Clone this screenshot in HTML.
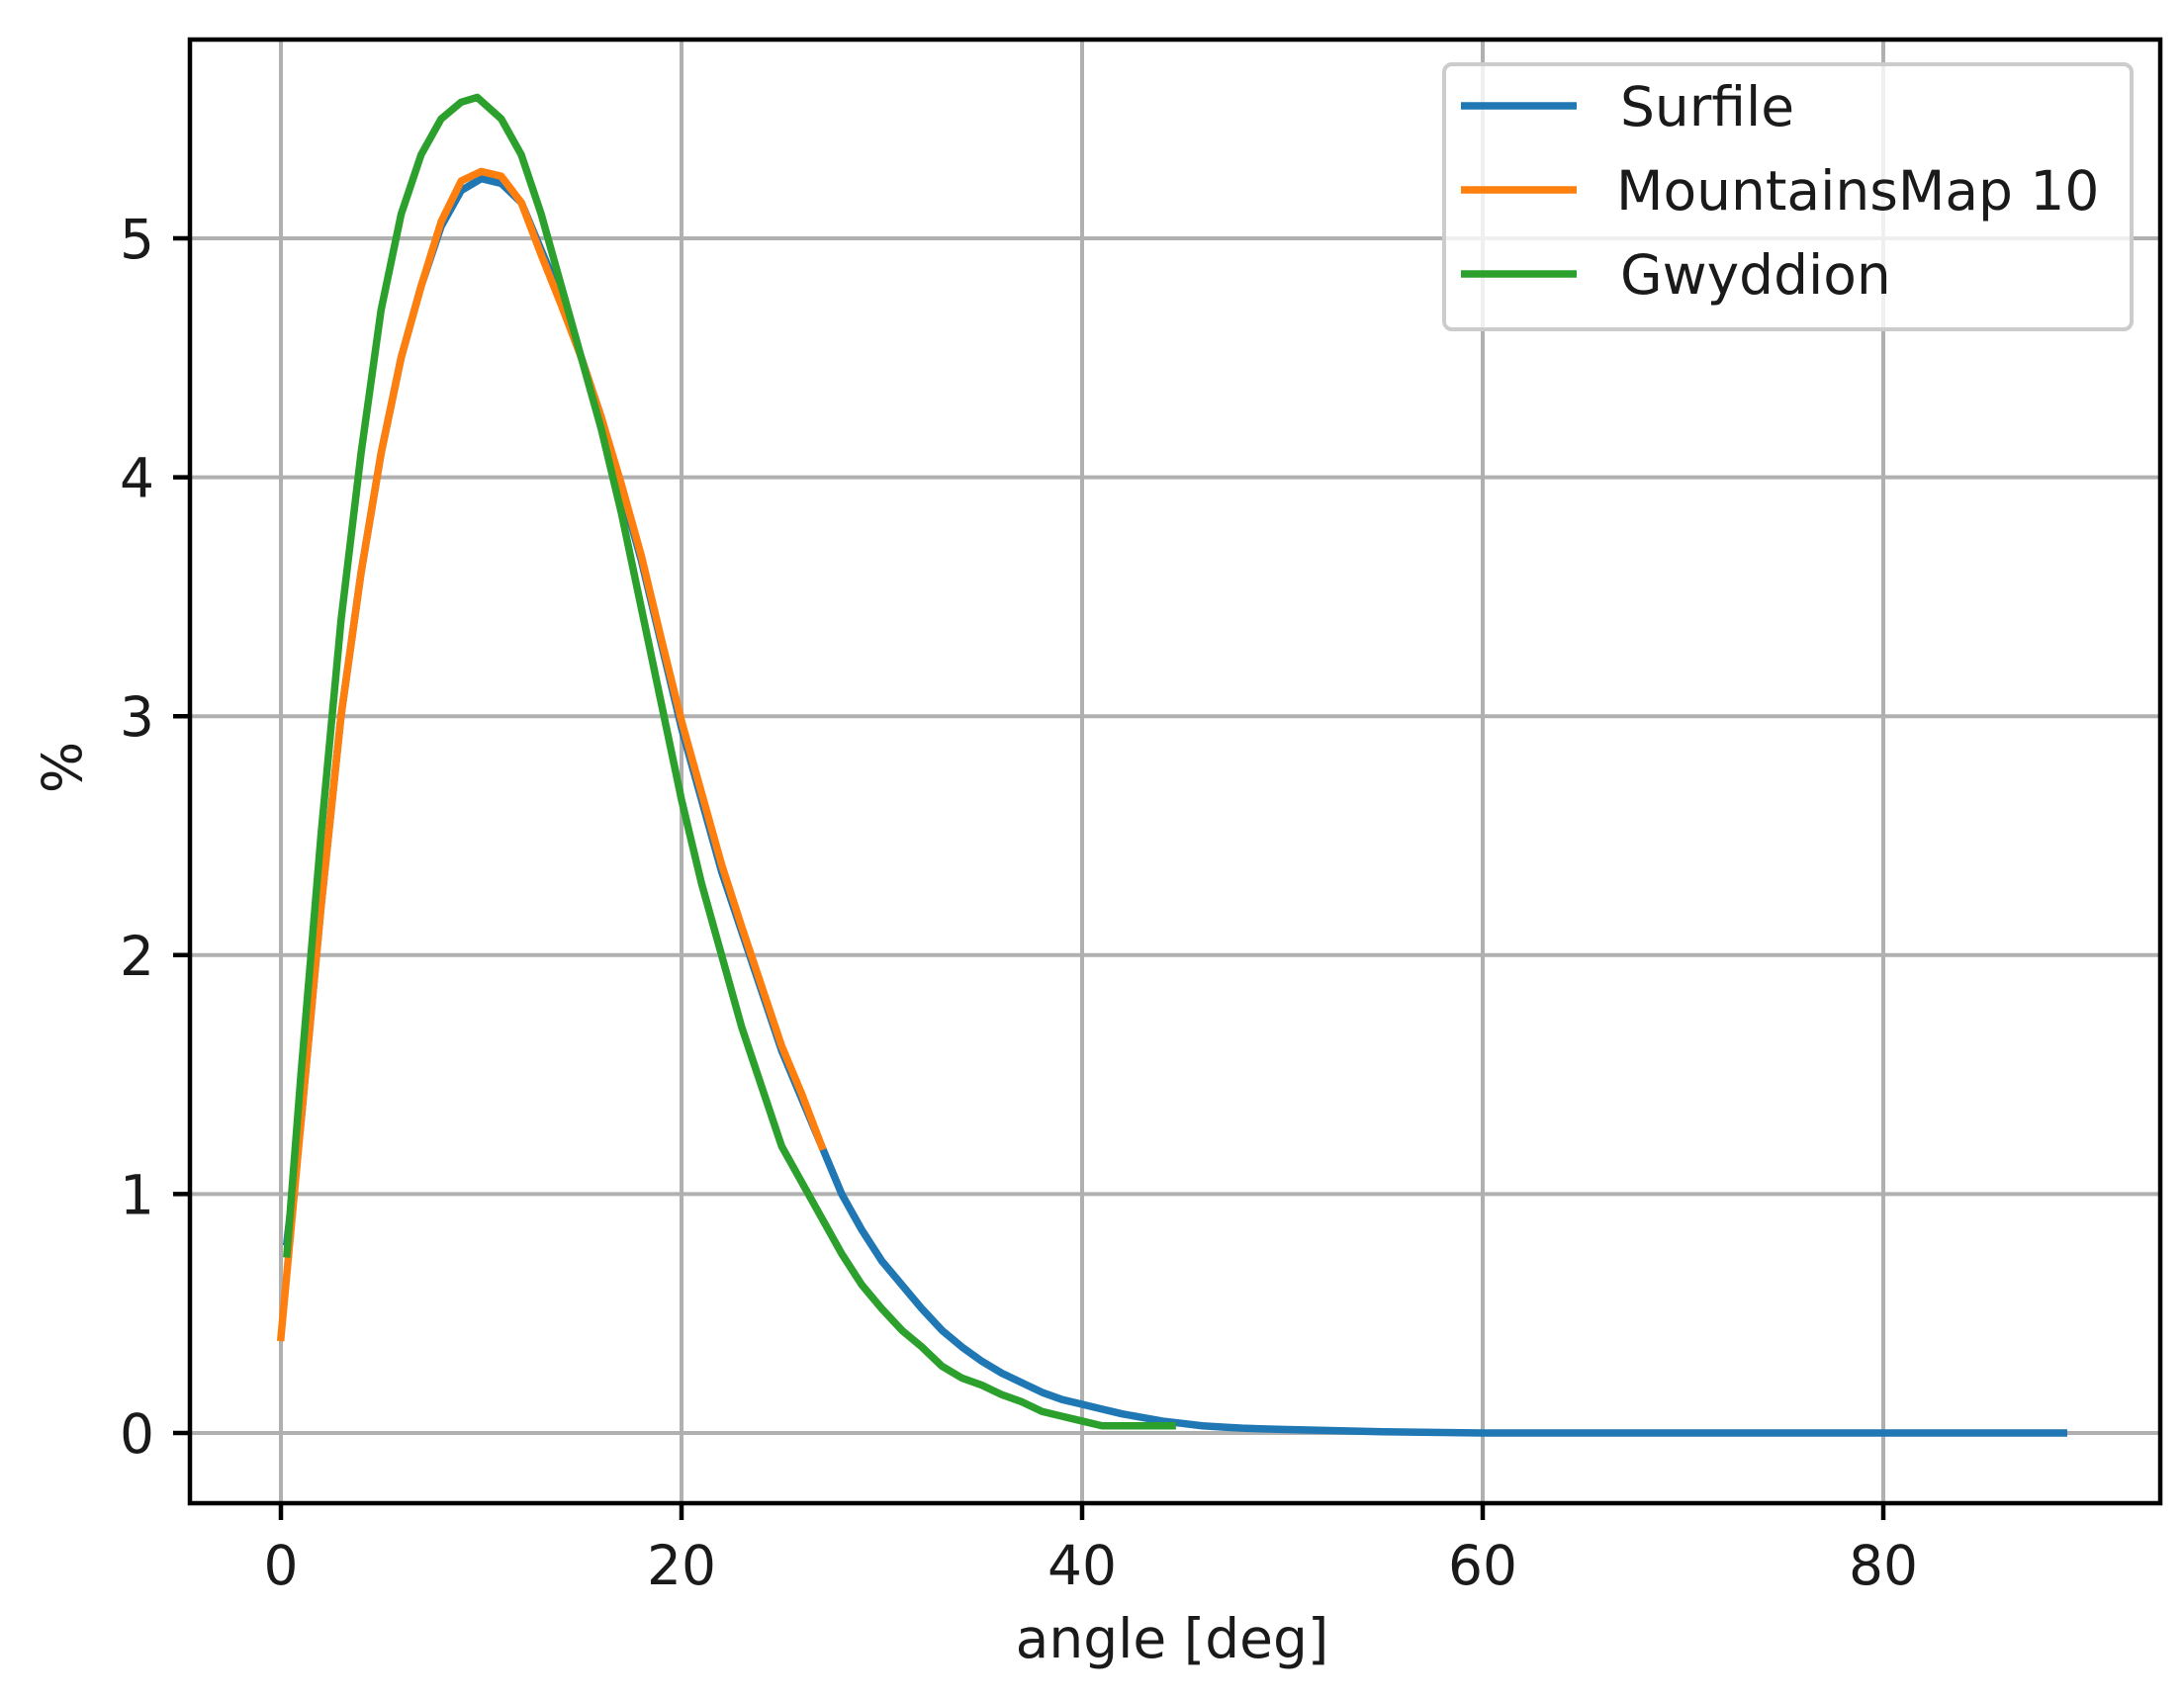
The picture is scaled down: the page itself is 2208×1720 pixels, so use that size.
<!DOCTYPE html>
<html><head><meta charset="utf-8"><style>
html,body{margin:0;padding:0;background:#fff;}
svg text{font-family:"DejaVu Sans","Liberation Sans",sans-serif;font-size:55px;fill:#1a1a1a;}
</style></head><body>
<svg width="2208" height="1715" viewBox="0 0 2208 1715" xmlns="http://www.w3.org/2000/svg">
<rect width="2208" height="1715" fill="#fff"/>
<g stroke="#b0b0b0" stroke-width="4">
<line x1="284" y1="40" x2="284" y2="1520"/>
<line x1="689" y1="40" x2="689" y2="1520"/>
<line x1="1094" y1="40" x2="1094" y2="1520"/>
<line x1="1499" y1="40" x2="1499" y2="1520"/>
<line x1="1904" y1="40" x2="1904" y2="1520"/>
<line x1="192" y1="1449" x2="2184" y2="1449"/>
<line x1="192" y1="1207.4" x2="2184" y2="1207.4"/>
<line x1="192" y1="965.8" x2="2184" y2="965.8"/>
<line x1="192" y1="724.2" x2="2184" y2="724.2"/>
<line x1="192" y1="482.6" x2="2184" y2="482.6"/>
<line x1="192" y1="241" x2="2184" y2="241"/>
</g>
<g transform="matrix(20.25,0,0,-241.6,284,1449)" fill="none" stroke-width="7.5" stroke-linejoin="round" stroke-linecap="square">
<polyline vector-effect="non-scaling-stroke" stroke="#1f77b4" points="0.3,0.8 1,1.3 2,2.2 3,3.0 4,3.6 5,4.1 6,4.5 7,4.8 8,5.05 9,5.2 10,5.25 11,5.23 12,5.15 13,4.95 14,4.75 15,4.5 16,4.25 17,3.95 18,3.65 19,3.3 20,2.95 21,2.65 22,2.35 23,2.1 24,1.85 25,1.6 26,1.4 27,1.2 28,1.0 29,0.85 30,0.72 31,0.62 32,0.52 33,0.43 34,0.36 35,0.3 36,0.25 37,0.21 38,0.17 39,0.14 40,0.12 41,0.1 42,0.08 43,0.065 44,0.05 45,0.04 46,0.03 47,0.025 48,0.02 50,0.015 55,0.005 60,0 89,0"/>
<polyline vector-effect="non-scaling-stroke" stroke="#ff7f0e" points="0,0.4 1,1.3 2,2.2 3,3.0 4,3.6 5,4.1 6,4.5 7,4.8 8,5.07 9,5.24 10,5.28 11,5.26 12,5.15 13,4.93 14,4.72 15,4.5 16,4.25 17,3.97 18,3.67 19,3.32 20,2.98 21,2.68 22,2.38 23,2.12 24,1.87 25,1.62 26,1.42 27,1.2"/>
<polyline vector-effect="non-scaling-stroke" stroke="#2ca02c" points="0.3,0.75 1,1.5 2,2.5 3,3.4 4,4.1 5,4.7 6,5.1 7,5.35 8,5.5 9,5.57 9.8,5.59 11,5.5 12,5.35 13,5.1 14,4.8 15,4.5 16,4.2 17,3.85 18,3.45 19,3.05 20,2.65 21,2.3 22,2.0 23,1.7 24,1.45 25,1.2 26,1.05 27,0.9 28,0.75 29,0.62 30,0.52 31,0.43 32,0.36 33,0.28 34,0.23 35,0.2 36,0.16 37,0.13 38,0.09 39,0.07 40,0.05 41,0.03 44.5,0.03"/>
</g>
<rect x="192" y="40" width="1992" height="1480" fill="none" stroke="#000" stroke-width="4.5"/>
<g stroke="#000" stroke-width="4.5">
<line x1="284" y1="1520" x2="284" y2="1537"/>
<line x1="689" y1="1520" x2="689" y2="1537"/>
<line x1="1094" y1="1520" x2="1094" y2="1537"/>
<line x1="1499" y1="1520" x2="1499" y2="1537"/>
<line x1="1904" y1="1520" x2="1904" y2="1537"/>
<line x1="175" y1="1449" x2="192" y2="1449"/>
<line x1="175" y1="1207.4" x2="192" y2="1207.4"/>
<line x1="175" y1="965.8" x2="192" y2="965.8"/>
<line x1="175" y1="724.2" x2="192" y2="724.2"/>
<line x1="175" y1="482.6" x2="192" y2="482.6"/>
<line x1="175" y1="241" x2="192" y2="241"/>
</g>
<g text-anchor="middle">
<text x="284" y="1602">0</text>
<text x="689" y="1602">20</text>
<text x="1094" y="1602">40</text>
<text x="1499" y="1602">60</text>
<text x="1904" y="1602">80</text>
<text x="1185" y="1676">angle [deg]</text>
</g>
<g text-anchor="end">
<text x="156" y="1469">0</text>
<text x="156" y="1227.4">1</text>
<text x="156" y="985.8">2</text>
<text x="156" y="744.2">3</text>
<text x="156" y="502.6">4</text>
<text x="156" y="261">5</text>
</g>
<text transform="translate(82,776) rotate(-90)" text-anchor="middle">%</text>
<rect x="1460" y="65" width="695" height="268" rx="8" fill="#fff" fill-opacity="0.8" stroke="#ccc" stroke-width="4"/>
<g stroke-width="7.5">
<line x1="1477" y1="107" x2="1594" y2="107" stroke="#1f77b4"/>
<line x1="1477" y1="192" x2="1594" y2="192" stroke="#ff7f0e"/>
<line x1="1477" y1="277" x2="1594" y2="277" stroke="#2ca02c"/>
</g>
<text x="1638" y="127">Surfile</text>
<text x="1634" y="212">MountainsMap 10</text>
<text x="1638" y="297">Gwyddion</text>
</svg>
</body></html>
